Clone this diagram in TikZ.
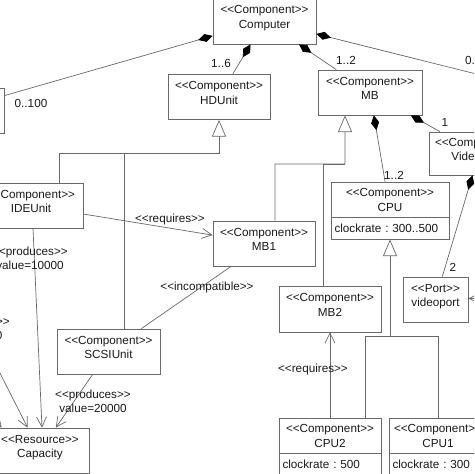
\documentclass[tikz,border=0pt]{standalone}
\usepackage{fontspec}
\setmainfont{Liberation Sans}
\usetikzlibrary{arrows.meta,shapes.multipart}

\definecolor{trait}{RGB}{105,105,105}
\definecolor{texte}{RGB}{25,25,25}

\newcommand{\stereo}[1]{<\kern0pt<#1>\kern0pt>}

\tikzset{
  comp/.style={draw=trait, line width=0.6pt, fill=white, align=center,
    text depth=7pt, minimum height=1.35cm, inner sep=1pt},
  classe/.style={draw=trait, line width=0.6pt, fill=white, rectangle split,
    rectangle split parts=2, inner xsep=3pt, inner ysep=5.2pt, anchor=north},
  lien/.style={draw=trait, line width=0.6pt},
  compo/.style={lien, {Diamond[length=4.5mm,width=2.4mm,color=black,fill=black]}-},
  dep/.style={lien, -{Straight Barb[length=3mm,width=3mm]}},
  gen/.style={lien, -{Triangle[length=5mm,width=4.2mm,fill=white]}},
  etiq/.style={align=center, inner sep=1pt}
}

\begin{document}
\frenchspacing
\begin{tikzpicture}[x=0.03cm, y=-0.03cm, font=\fontsize{10}{12}\selectfont, text=texte]

\useasboundingbox (0,0) rectangle (474,474);
\clip (0,0) rectangle (474,474);

% Composants
\node[comp, minimum width=3.09cm, minimum height=1.38cm] (computer) at (264.5,21) {\stereo{Component}\\Computer};
\node[comp, minimum width=3.09cm] (leftbox) at (-47.5,110.5) {};
\node[comp, minimum width=3.06cm] (hdunit) at (219,97) {\stereo{Component}\\HDUnit};
\node[comp, minimum width=3.12cm] (mb) at (370,92.5) {\stereo{Component}\\MB};
\node[comp, minimum width=3cm, minimum height=1.29cm] (video) at (479,153.5) {\stereo{Component}\\VideoCard};
\node[comp, minimum width=3.12cm] (ideunit) at (31,205.5) {\stereo{Component}\\IDEUnit};
\node[comp, minimum width=3.06cm] (mb1) at (264,243.5) {\stereo{Component}\\MB1};
\node[comp, minimum width=3.06cm, minimum height=1.38cm] (mb2) at (330,309) {\stereo{Component}\\MB2};
\node[comp, minimum width=1.95cm] (videoport) at (435.5,299.5) {\stereo{Port}\\videoport};
\node[comp, minimum width=3.09cm] (scsiunit) at (108.5,351.5) {\stereo{Component}\\SCSIUnit};
\node[comp, minimum width=2.94cm] (capacity) at (40,450.5) {\stereo{Resource}\\Capacity};

% Classes avec attribut
\node[classe, text width=3.329cm] (cpu) at (390,182)
{\centering\stereo{Component}\\CPU\par\nodepart{two}\raggedright clockrate : 300..500\par};
\node[classe, text width=2.849cm] (cpu2) at (330,418)
{\centering\stereo{Component}\\CPU2\par\nodepart{two}\raggedright clockrate : 500\par};
\node[classe, text width=2.729cm] (cpu1) at (438,418)
{\centering\stereo{Component}\\CPU1\par\nodepart{two}\raggedright clockrate : 300\par};

% Hors cadre
\coordinate (horsdroite) at (580,100);
\coordinate (horsgauche) at (-60,255);
\coordinate (horsgauche2) at (-100,300);
\coordinate (horsport) at (560,296);

% Compositions
\draw[compo] (computer) -- (leftbox);
\draw[compo] (computer) -- (hdunit);
\draw[compo] (computer) -- (mb);
\draw[compo] (computer) -- (horsdroite);
\draw[compo] (mb) -- (video);
\draw[compo] (mb) -- (cpu);
\draw[compo] (video) -- (videoport);

\node (m1) at (31,103) {0..100};
\node (m2) at (221,63) {1..6};
\node (m3) at (346,60) {1..2};
\node[anchor=west] (m4) at (461,60) {0..1};
\node (m5) at (445,122) {1};
\node (m6) at (394,175) {1..2};
\node (m7) at (453,267) {2};

% Generalisations
\coordinate (jhd) at (219,153);
\draw[gen] ([xshift=0.84cm]ideunit.north) |- (jhd) -- (hdunit.south);
\draw[lien] ([xshift=0.465cm]scsiunit.north) |- (jhd);

\coordinate (jmb) at (345,164);
\draw[gen] ([xshift=0.33cm]mb1.north) |- (jmb) -- ([xshift=-0.75cm]mb.south);
\draw[lien] ([xshift=-0.21cm]mb2.north) |- (jmb);

\coordinate (jcpu) at (390,336);
\draw[gen] ([xshift=1.05cm]cpu2.north) |- (jcpu) -- (cpu.south);
\draw[lien] (cpu1.north) |- (jcpu);

% Dependances
\draw[dep] (ideunit) -- (mb1);
\draw[lien] (mb1) -- (scsiunit);
\draw[dep] (cpu2.north) -- (mb2.south);
\draw[dep] ([xshift=0.06cm]ideunit.south) -- ([xshift=0.06cm]capacity.north);
\draw[dep] (scsiunit) -- (capacity);
\draw[dep] (horsgauche) -- ([xshift=1.11cm]capacity.north west);
\draw[dep] (horsgauche2) -- ([xshift=0.33cm]capacity.north west);
\draw[dep] (horsport) -- (videoport);

\node[etiq] (l1) at (170,219) {\stereo{requires}};
\node[etiq] (l2) at (207,287) {\stereo{incompatible}};
\node[etiq] (l3) at (30,258) {\stereo{produces}\\value=10000};
\node[etiq] (l4) at (93,401) {\stereo{produces}\\value=20000};
\node[etiq] (l5) at (313,369) {\stereo{requires}};
\node[etiq] (l6) at (-28,328) {\stereo{produces}\\value=5000};

\end{tikzpicture}
\end{document}
